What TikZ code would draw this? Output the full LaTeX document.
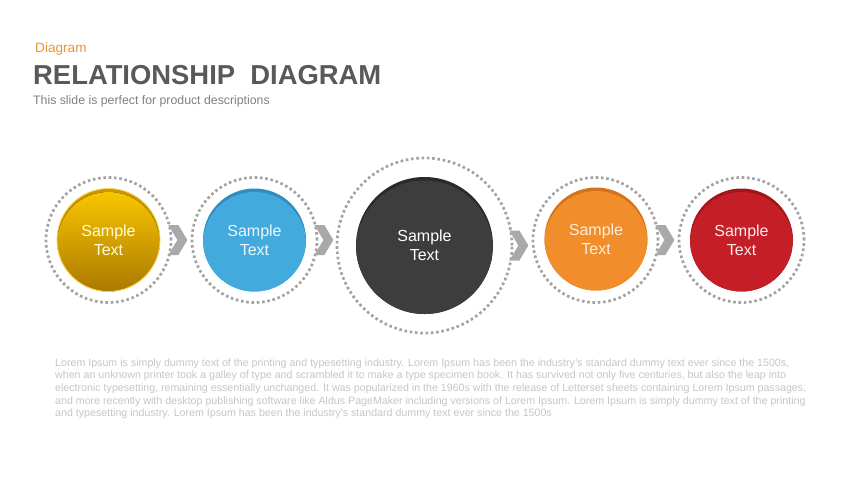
\documentclass[tikz,border=0pt]{standalone}
\usepackage{fontspec}
\setmainfont{Liberation Sans}
\usetikzlibrary{calc}
\definecolor{ringgray}{HTML}{A3A3A3}
\definecolor{chevgray}{HTML}{A9A9A9}
\definecolor{titlegray}{HTML}{595959}
\definecolor{subgray}{HTML}{808080}
\definecolor{loremgray}{HTML}{C6C6C6}
\definecolor{diagorange}{HTML}{E8963A}
\definecolor{yelTop}{HTML}{F8C500}
\definecolor{yelBot}{HTML}{A87700}
\definecolor{yelDark}{HTML}{C89600}
\definecolor{bluBase}{HTML}{43AADD}
\definecolor{bluDark}{HTML}{2F8DBF}
\definecolor{drkBase}{HTML}{3D3D3D}
\definecolor{drkDark}{HTML}{2A2A2A}
\definecolor{orgBase}{HTML}{F28D2C}
\definecolor{orgDark}{HTML}{D6731A}
\definecolor{redBase}{HTML}{C41E26}
\definecolor{redDark}{HTML}{A3141B}
\tikzset{
  ring/.style={circle, draw=ringgray, line width=2.7pt, dash pattern=on 2.6pt off 2.7pt, inner sep=0pt},
  disc/.style={circle, inner sep=0pt, align=center, font=\fontsize{16}{19}\selectfont},
  chevron/.style={fill=chevgray},
  lorem/.style={anchor=base west, text=loremgray, font=\fontsize{10.65}{12}\selectfont, inner sep=0pt}
}
\newcommand\mychev[1]{\fill[chevron] ($(#1)+(-4,-15)$) -- ++(10,0) -- ++(9,15) -- ++(-9,15) -- ++(-10,0) -- ++(9,-15) -- cycle;}
% #1 name, #2 center, #3 radius, #4 dark color, #5 fill options, #6 text color
\newcommand\mydisc[6]{%
  \fill[#4] (#2) circle[radius=#3];
  \begin{scope}
    \clip (#2) circle[radius=#3];
    \fill[#5] ($(#2)+(0,3.5)$) circle[radius=#3];
  \end{scope}
  \node[disc, minimum size=2*#3, text=#6] (#1) at (#2) {Sample\\Text};
}
\begin{document}
\begin{tikzpicture}[x=1pt,y=-1pt]
\useasboundingbox[fill=white] (0,0) rectangle (853,480);
% header
\node[anchor=base west, inner sep=0pt, text=diagorange, font=\fontsize{13.6}{15}\selectfont] (kicker) at (35,52) {Diagram};
\node[anchor=base west, inner sep=0pt, text=titlegray, font=\fontsize{27.4}{32}\selectfont\bfseries] (title) at (33,84.3) {RELATIONSHIP\ \ DIAGRAM};
\node[anchor=base west, inner sep=0pt, text=subgray, font=\fontsize{12.3}{13}\selectfont] (sub) at (33,104.3) {This slide is perfect for product descriptions};
% rings
\node[ring, minimum size=125pt] (r1) at (108.5,240) {};
\node[ring, minimum size=125pt] (r2) at (254.5,240) {};
\node[ring, minimum size=175pt] (r3) at (424.5,245.5) {};
\node[ring, minimum size=125pt] (r4) at (595.5,240) {};
\node[ring, minimum size=125pt] (r5) at (741.5,240) {};
% discs
\mydisc{c1}{108.5,240}{51.5}{yelDark}{top color=yelTop, bottom color=yelBot}{yellow!15}
\draw[yellow!60!orange!70, line width=0.8pt] (c1) circle[radius=51.5];
\mydisc{c2}{254.5,240}{51.5}{bluDark}{bluBase}{cyan!8}
\mydisc{c3}{424.5,245.5}{68.5}{drkDark}{drkBase}{white}
\mydisc{c4}{596,239}{51.5}{orgDark}{orgBase}{orange!15}
\mydisc{c5}{741.5,240}{51.5}{redDark}{redBase}{red!8}
% chevrons
\mychev{r1.east}
\mychev{r2.east}
\mychev{r3.east}
\mychev{r4.east}
% lorem
\node[lorem] (l1) at (55,366) {Lorem Ipsum is simply dummy text of the printing and typesetting industry. Lorem Ipsum has been the industry's standard dummy text ever since the 1500s,};
\node[lorem] (l2) at (55,378.7) {when an unknown printer took a galley of type and scrambled it to make a type specimen book. It has survived not only five centuries, but also the leap into};
\node[lorem] (l3) at (55,391.3) {electronic typesetting, remaining essentially unchanged. It was popularized in the 1960s with the release of Letterset sheets containing Lorem Ipsum passages,};
\node[lorem] (l4) at (55,404) {and more recently with desktop publishing software like Aldus PageMaker including versions of Lorem Ipsum. Lorem Ipsum is simply dummy text of the printing};
\node[lorem] (l5) at (55,416.7) {and typesetting industry. Lorem Ipsum has been the industry's standard dummy text ever since the 1500s};
\end{tikzpicture}
\end{document}
